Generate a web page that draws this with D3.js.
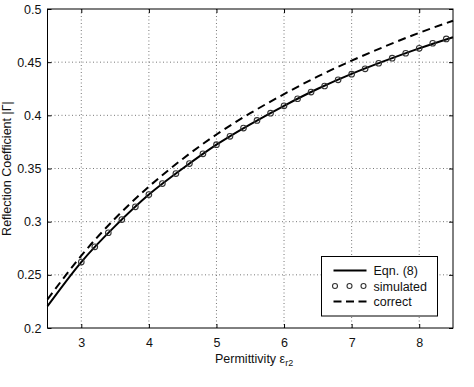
<!DOCTYPE html>
<html>
<head>
<meta charset="utf-8">
<script src="https://cdn.jsdelivr.net/npm/d3@7"></script>
<style>
  body { margin: 0; background: #fff; }
  svg { display: block; font-family: "Liberation Sans", Arial, sans-serif; }
  .grid line { stroke: #555; stroke-width: 0.8; stroke-dasharray: 1,2.5; }
  .tick text { font-size: 12.5px; fill: #111; }
</style>
</head>
<body>
<svg id="chart" width="474" height="387"></svg>
<script>
// values
var eqnX = [2.5, 3.0, 3.5, 4.0, 4.5, 5.0, 5.5, 6.0, 6.5, 7.0, 7.5, 8.0, 8.5];
var eqnY = [0.2205, 0.262, 0.2958, 0.3255, 0.350, 0.3724, 0.3916, 0.409, 0.425, 0.439, 0.4514, 0.463, 0.4735];

var simX = [3.0, 3.2, 3.4, 3.6, 3.8, 4.0, 4.2, 4.4, 4.6, 4.8, 5.0, 5.2, 5.4, 5.6,
            5.8, 6.0, 6.2, 6.4, 6.6, 6.8, 7.0, 7.2, 7.4, 7.6, 7.8, 8.0, 8.2, 8.4];
var simY = [0.262, 0.2763, 0.2896, 0.302, 0.314, 0.3255, 0.3358, 0.3452, 0.3546, 0.3638,
            0.3724, 0.3803, 0.388, 0.3952, 0.402, 0.4089, 0.4156, 0.4219, 0.4276, 0.4334,
            0.4387, 0.4437, 0.449, 0.4538, 0.4584, 0.463, 0.4678, 0.4719];

var corX = [2.5, 3.0, 3.5, 4.0, 4.5, 5.0, 5.5, 6.0, 6.5, 7.0, 7.5, 8.0, 8.5];
var corY = [0.227, 0.268, 0.303, 0.333, 0.359, 0.382, 0.402, 0.420, 0.4366, 0.4514, 0.465, 0.4776, 0.489];

var xTicks = [3, 4, 5, 6, 7, 8];
var yTicks = [0.2, 0.25, 0.3, 0.35, 0.4, 0.45, 0.5];
var legendLabels = ["Eqn. (8)", "simulated", "correct"];

var margin = { left: 47.5, top: 9, right: 21, bottom: 59 };
var svg = d3.select('#chart');
var W = +svg.attr('width'), H = +svg.attr('height');
var plotW = W - margin.left - margin.right,
    plotH = H - margin.top - margin.bottom;

var x = d3.scaleLinear().domain([2.5, 8.5]).range([0, plotW]);
var y = d3.scaleLinear().domain([0.2, 0.5]).range([plotH, 0]);

var g = svg.append('g')
	.attr('transform', 'translate(' + margin.left + ',' + margin.top + ')');

// dotted grid
g.append('g').attr('class', 'grid')
	.selectAll('line.v').data(xTicks).enter().append('line')
		.attr('x1', function(d) { return x(d); }).attr('x2', function(d) { return x(d); })
		.attr('y1', 0).attr('y2', plotH);
g.select('.grid')
	.selectAll('line.h').data(yTicks.slice(1, -1)).enter().append('line')
		.attr('y1', function(d) { return y(d); }).attr('y2', function(d) { return y(d); })
		.attr('x1', 0).attr('x2', plotW);

// axes with inward ticks (all four sides)
function styleAxis(sel) {
	sel.select('.domain').remove();
	sel.selectAll('.tick line').attr('stroke', '#000').attr('stroke-width', 1);
}
g.append('g').attr('transform', 'translate(0,' + plotH + ')')
	.call(d3.axisBottom(x).tickValues(xTicks).tickSize(-4).tickPadding(10).tickFormat(d3.format('d')))
	.call(styleAxis);
g.append('g')
	.call(d3.axisTop(x).tickValues(xTicks).tickSize(-4).tickFormat(''))
	.call(styleAxis);
g.append('g')
	.call(d3.axisLeft(y).tickValues(yTicks).tickSize(-4).tickPadding(6)
		.tickFormat(function(d) { return d3.format('')(+d.toFixed(2)); }))
	.call(styleAxis);
g.append('g').attr('transform', 'translate(' + plotW + ',0)')
	.call(d3.axisRight(y).tickValues(yTicks).tickSize(-4).tickFormat(''))
	.call(styleAxis);

g.selectAll('.tick text').attr('font-family', '"Liberation Sans", Arial, sans-serif');

// frame
g.append('rect')
	.attr('width', plotW).attr('height', plotH)
	.attr('fill', 'none').attr('stroke', '#000').attr('stroke-width', 1);

var line = d3.line()
	.x(function(d) { return x(d[0]); })
	.y(function(d) { return y(d[1]); })
	.curve(d3.curveNatural);

g.append('path')
	.datum(d3.zip(corX, corY))
	.attr('d', line)
	.attr('fill', 'none').attr('stroke', '#000')
	.attr('stroke-width', 2).attr('stroke-dasharray', '8,5');

g.append('path')
	.datum(d3.zip(eqnX, eqnY))
	.attr('d', line)
	.attr('fill', 'none').attr('stroke', '#000').attr('stroke-width', 2);

g.append('g').selectAll('circle')
	.data(d3.zip(simX, simY))
	.enter().append('circle')
		.attr('cx', function(d) { return x(d[0]); })
		.attr('cy', function(d) { return y(d[1]); })
		.attr('r', 2.8)
		.attr('fill', 'none').attr('stroke', '#333').attr('stroke-width', 1.1);

// legend
var lg = svg.append('g').attr('transform', 'translate(321.5,256.5)');
lg.append('rect').attr('width', 116).attr('height', 59.5)
	.attr('fill', '#fff').attr('stroke', '#000').attr('stroke-width', 1);

var rows = lg.selectAll('g.row').data(legendLabels).enter().append('g')
	.attr('transform', function(d, i) { return 'translate(0,' + (14 + i * 15.5) + ')'; });
rows.append('text')
	.attr('x', 52).attr('y', 4.5)
	.attr('font-size', 12.5).attr('fill', '#111')
	.text(function(d) { return d; });

lg.append('line').attr('x1', 12).attr('x2', 45).attr('y1', 14).attr('y2', 14)
	.attr('stroke', '#000').attr('stroke-width', 2);
lg.append('g').selectAll('circle').data([13.5, 28, 42]).enter().append('circle')
	.attr('cx', function(d) { return d; }).attr('cy', 29.5).attr('r', 2.5)
	.attr('fill', 'none').attr('stroke', '#333').attr('stroke-width', 1.1);
lg.append('line').attr('x1', 12).attr('x2', 45).attr('y1', 45).attr('y2', 45)
	.attr('stroke', '#000').attr('stroke-width', 2).attr('stroke-dasharray', '8,4.5');

// axis titles
var xt = svg.append('text')
	.attr('x', 215).attr('y', 363)
	.attr('font-size', 12.5).attr('fill', '#111');
xt.append('tspan').text('Permittivity ε');
xt.append('tspan').attr('font-size', 9).attr('dy', 3).text('r2');

svg.append('text')
	.attr('transform', 'translate(11,' + (margin.top + plotH / 2) + ') rotate(-90)')
	.attr('text-anchor', 'middle')
	.attr('font-size', 12.5).attr('fill', '#111')
	.text('Reflection Coefficient |Γ|');
</script>
</body>
</html>
